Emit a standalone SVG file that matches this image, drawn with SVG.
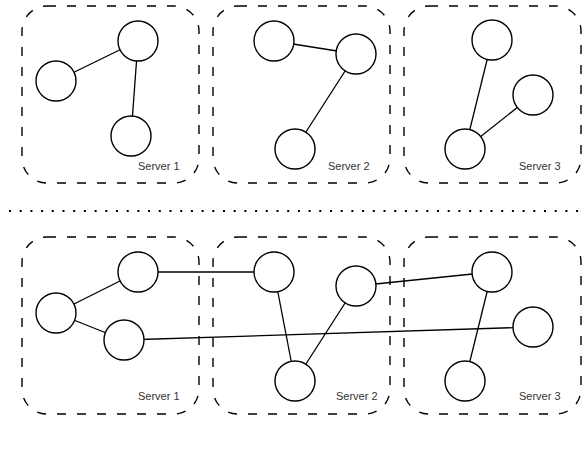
<svg xmlns="http://www.w3.org/2000/svg" width="584" height="455" viewBox="0 0 584 455">
<style>
.box{fill:none;stroke:#000;stroke-width:1.4;stroke-dasharray:9 11}
.node{fill:#fff;stroke:#000;stroke-width:1.4}
.edge{stroke:#000;stroke-width:1.3;fill:none}
.lbl{font-family:"Liberation Sans",Arial,sans-serif;font-size:11px;fill:#333}
.sep{stroke:#000;stroke-width:2;stroke-dasharray:2 8.7}
</style>
<rect width="584" height="455" fill="#fff"/>
<g id="top-servers">
<g id="t-server1"><rect class="box" x="22" y="6" width="177" height="177" rx="25"/><text class="lbl" x="138" y="170">Server 1</text></g>
<g id="t-server2"><rect class="box" x="213" y="6" width="177" height="177" rx="25"/><text class="lbl" x="328" y="170">Server 2</text></g>
<g id="t-server3"><rect class="box" x="404" y="6" width="177" height="177" rx="25"/><text class="lbl" x="519" y="170">Server 3</text></g>
</g>
<g id="bottom-servers">
<g id="b-server1"><rect class="box" x="22" y="237" width="177" height="177" rx="25"/><text class="lbl" x="138" y="400">Server 1</text></g>
<g id="b-server2"><rect class="box" x="213" y="237" width="177" height="177" rx="25"/><text class="lbl" x="336" y="400">Server 2</text></g>
<g id="b-server3"><rect class="box" x="404" y="237" width="177" height="177" rx="25"/><text class="lbl" x="519" y="400">Server 3</text></g>
</g>
<line id="separator" class="sep" x1="9" y1="211" x2="580" y2="211"/>
<g id="connectors">
<line class="edge" x1="138" y1="41" x2="56" y2="81"/>
<line class="edge" x1="138" y1="41" x2="131" y2="136"/>
<line class="edge" x1="274" y1="41" x2="356" y2="54"/>
<line class="edge" x1="356" y1="54" x2="295" y2="149"/>
<line class="edge" x1="492" y1="40" x2="465" y2="149"/>
<line class="edge" x1="533" y1="95" x2="465" y2="149"/>
<line class="edge" x1="138" y1="272" x2="56" y2="313"/>
<line class="edge" x1="56" y1="313" x2="124" y2="340"/>
<line class="edge" x1="138" y1="272" x2="274" y2="272"/>
<line class="edge" x1="124" y1="340" x2="533" y2="327"/>
<line class="edge" x1="274" y1="272" x2="295" y2="381"/>
<line class="edge" x1="356" y1="286" x2="295" y2="381"/>
<line class="edge" x1="356" y1="286" x2="492" y2="272"/>
<line class="edge" x1="492" y1="272" x2="465" y2="381"/>
</g>
<g id="nodes-top">
<circle id="t1a" class="node" cx="138" cy="41" r="20"/>
<circle id="t1b" class="node" cx="56" cy="81" r="20"/>
<circle id="t1c" class="node" cx="131" cy="136" r="20"/>
<circle id="t2a" class="node" cx="274" cy="41" r="20"/>
<circle id="t2b" class="node" cx="356" cy="54" r="20"/>
<circle id="t2c" class="node" cx="295" cy="149" r="20"/>
<circle id="t3a" class="node" cx="492" cy="40" r="20"/>
<circle id="t3b" class="node" cx="533" cy="95" r="20"/>
<circle id="t3c" class="node" cx="465" cy="149" r="20"/>
</g>
<g id="nodes-bottom">
<circle id="b1a" class="node" cx="138" cy="272" r="20"/>
<circle id="b1b" class="node" cx="56" cy="313" r="20"/>
<circle id="b1c" class="node" cx="124" cy="340" r="20"/>
<circle id="b2a" class="node" cx="274" cy="272" r="20"/>
<circle id="b2b" class="node" cx="356" cy="286" r="20"/>
<circle id="b2c" class="node" cx="295" cy="381" r="20"/>
<circle id="b3a" class="node" cx="492" cy="272" r="20"/>
<circle id="b3b" class="node" cx="533" cy="327" r="20"/>
<circle id="b3c" class="node" cx="465" cy="381" r="20"/>
</g>
</svg>
